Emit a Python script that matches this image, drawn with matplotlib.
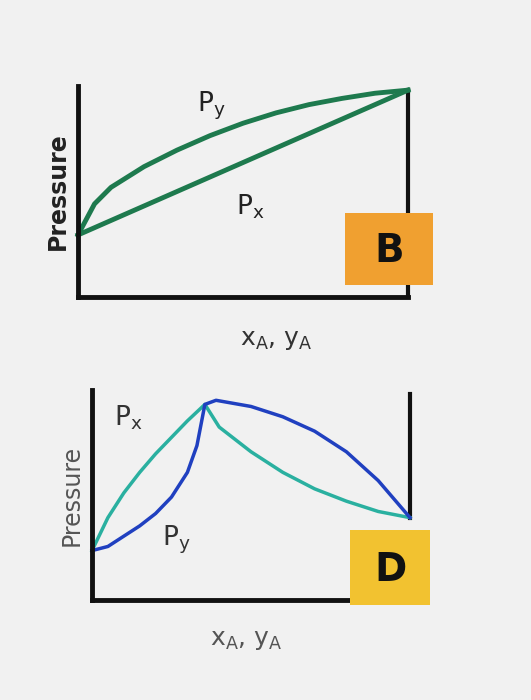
import matplotlib
matplotlib.use("Agg")
import matplotlib.pyplot as plt
from matplotlib.patches import Rectangle

# top panel (B)
b_x = [0, 0.05, 0.1, 0.2, 0.3, 0.4, 0.5, 0.6, 0.7, 0.8, 0.9, 1.0]
b_py = [0.3, 0.45, 0.53, 0.63, 0.71, 0.78, 0.84, 0.89, 0.93, 0.96, 0.985, 1.0]
b_px_x = [0, 1]
b_px = [0.3, 1.0]

# bottom panel (D)
d_tx = [0, 0.05, 0.1, 0.15, 0.2, 0.25, 0.3, 0.355, 0.4, 0.5, 0.6, 0.7, 0.8, 0.9, 1.0]
d_ty = [0.24, 0.40, 0.52, 0.62, 0.71, 0.79, 0.87, 0.95, 0.84, 0.72, 0.62, 0.54, 0.48, 0.43, 0.40]
d_bx = [0, 0.05, 0.1, 0.15, 0.2, 0.25, 0.3, 0.33, 0.355, 0.39, 0.5, 0.6, 0.7, 0.8, 0.9, 1.0]
d_by = [0.24, 0.26, 0.31, 0.36, 0.42, 0.50, 0.62, 0.75, 0.95, 0.97, 0.94, 0.89, 0.82, 0.72, 0.58, 0.40]

W, H = 531, 700
fig = plt.figure(figsize=(5.31, 7.0), dpi=100)
fig.patch.set_facecolor('#f1f1f1')

def px_axes(l, t, r, b):
    return fig.add_axes([l / W, 1 - b / H, (r - l) / W, (b - t) / H])

def style(ax):
    ax.set_xlim(0, 1); ax.set_ylim(0, 1.02)
    ax.set_facecolor('none')
    for s in ['top', 'right']:
        ax.spines[s].set_visible(False)
    for s in ['left', 'bottom']:
        ax.spines[s].set_linewidth(3.5); ax.spines[s].set_color('#111111')
    ax.set_xticks([]); ax.set_yticks([])

ax1 = px_axes(78, 86, 408, 297)
style(ax1)
ax1.plot([1, 1], [0, 1.0], color='#111111', lw=3, clip_on=False)
ax1.plot(b_x, b_py, color='#1e7a4e', lw=3.5, clip_on=False)
ax1.plot(b_px_x, b_px, color='#1e7a4e', lw=3.5, clip_on=False)
ax1.set_ylabel('Pressure', fontsize=17, fontweight='bold', color='#222222', labelpad=6)
ax1.text(0.36, 0.88, r'P$_\mathregular{y}$', fontsize=19, color='#222222', transform=ax1.transAxes)
ax1.text(0.48, 0.39, r'P$_\mathregular{x}$', fontsize=19, color='#222222', transform=ax1.transAxes)
fig.text(240 / W, 1 - 345 / H, r'x$_\mathregular{A}$, y$_\mathregular{A}$', fontsize=18, color='#333333')
fig.patches.append(Rectangle((345 / W, 1 - 285 / H), 88 / W, 72 / H, transform=fig.transFigure,
                             facecolor='#f0a030', edgecolor='none'))
fig.text(389 / W, 1 - 251 / H, 'B', fontsize=28, fontweight='bold', ha='center', va='center', color='#111111')

ax2 = px_axes(92, 390, 410, 600)
style(ax2)
ax2.plot([1, 1], [0.40, 1.0], color='#111111', lw=3, clip_on=False)
ax2.plot(d_tx, d_ty, color='#2ab0a0', lw=2.5, clip_on=False)
ax2.plot(d_bx, d_by, color='#2040c0', lw=2.5, clip_on=False)
ax2.set_ylabel('Pressure', fontsize=17, color='#555555', labelpad=6)
ax2.text(0.07, 0.83, r'P$_\mathregular{x}$', fontsize=19, color='#333333', transform=ax2.transAxes)
ax2.text(0.22, 0.26, r'P$_\mathregular{y}$', fontsize=19, color='#333333', transform=ax2.transAxes)
fig.text(210 / W, 1 - 645 / H, r'x$_\mathregular{A}$, y$_\mathregular{A}$', fontsize=18, color='#555555')
fig.patches.append(Rectangle((350 / W, 1 - 605 / H), 80 / W, 75 / H, transform=fig.transFigure,
                             facecolor='#f2c230', edgecolor='none'))
fig.text(390 / W, 1 - 570 / H, 'D', fontsize=28, fontweight='bold', ha='center', va='center', color='#111111')

fig.savefig('out.png', dpi=100, facecolor=fig.get_facecolor())
